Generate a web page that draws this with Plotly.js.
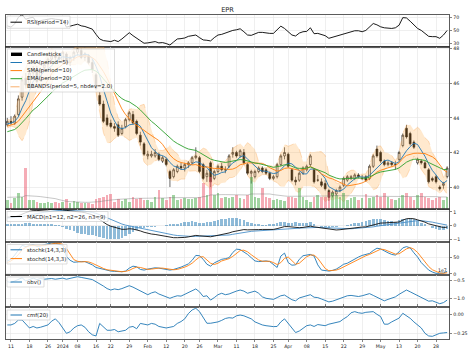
<!DOCTYPE html>
<html>
<head>
<meta charset="utf-8">
<script src="https://cdn.plot.ly/plotly-3.0.1.min.js"></script>
<style>html,body{margin:0;padding:0;background:#fff;}#chart{width:474px;height:355px;}</style>
</head>
<body>
<div id="chart"></div>
<script>
const dates = [
'2023-12-08','2023-12-11','2023-12-12','2023-12-13','2023-12-14','2023-12-15','2023-12-18','2023-12-19','2023-12-20','2023-12-21',
'2023-12-22','2023-12-26','2023-12-27','2023-12-28','2023-12-29','2024-01-02','2024-01-03','2024-01-04','2024-01-05','2024-01-08',
'2024-01-09','2024-01-10','2024-01-11','2024-01-12','2024-01-16','2024-01-17','2024-01-18','2024-01-19','2024-01-22','2024-01-23',
'2024-01-24','2024-01-25','2024-01-26','2024-01-29','2024-01-30','2024-01-31','2024-02-01','2024-02-02','2024-02-05','2024-02-06',
'2024-02-07','2024-02-08','2024-02-09','2024-02-12','2024-02-13','2024-02-14','2024-02-15','2024-02-16','2024-02-20','2024-02-21',
'2024-02-22','2024-02-23','2024-02-26','2024-02-27','2024-02-28','2024-02-29','2024-03-01','2024-03-04','2024-03-05','2024-03-06',
'2024-03-07','2024-03-08','2024-03-11','2024-03-12','2024-03-13','2024-03-14','2024-03-15','2024-03-18','2024-03-19','2024-03-20',
'2024-03-21','2024-03-22','2024-03-25','2024-03-26','2024-03-27','2024-03-28','2024-04-01','2024-04-02','2024-04-03','2024-04-04',
'2024-04-05','2024-04-08','2024-04-09','2024-04-10','2024-04-11','2024-04-12','2024-04-15','2024-04-16','2024-04-17','2024-04-18',
'2024-04-19','2024-04-22','2024-04-23','2024-04-24','2024-04-25','2024-04-26','2024-04-29','2024-04-30','2024-05-01','2024-05-02',
'2024-05-03','2024-05-06','2024-05-07','2024-05-08','2024-05-09','2024-05-10','2024-05-13','2024-05-14','2024-05-15','2024-05-16',
'2024-05-17','2024-05-20','2024-05-21','2024-05-22','2024-05-23','2024-05-24','2024-05-28','2024-05-29','2024-05-30','2024-05-31'];

const tickDates = ['2023-12-11','2023-12-18','2023-12-26','2024-01-02','2024-01-08','2024-01-16','2024-01-22','2024-01-29','2024-02-05','2024-02-12','2024-02-20','2024-02-26','2024-03-04','2024-03-11','2024-03-18','2024-03-25','2024-04-01','2024-04-08','2024-04-15','2024-04-22','2024-04-29','2024-05-06','2024-05-13','2024-05-20','2024-05-28'];
const tickLabels = ['11','18','26','2024','08','16','22','29','Feb','12','20','26','Mar','11','18','25','Apr','08','15','22','29','May','13','20','28'];

const open = [43.6,43.8,43.7,44.2,45.2,46.3,46.0,46.6,46.8,46.2, 46.9,47.1,47.4,47.6,47.5,47.3,47.7,47.2,47.5,47.8,
47.9,47.5,47.6,47.2,46.5,45.3,44.8,44.0,43.7,43.5, 43.6,43.1,43.5,43.9,44.2,43.8,43.0,42.5,41.8,41.8,
41.8,41.9,41.5,41.6,40.9,40.6,40.9,41.2,41.1,41.3, 41.4,41.7,41.7,41.3,40.6,41.4,40.5,40.9,41.2,41.0,
41.2,41.9,42.0,41.8,42.0,41.3,40.8,40.6,40.9,41.1, 41.0,40.8,40.5,40.6,41.3,41.8,41.9,41.0,40.4,40.4,
40.8,41.0,41.3,41.0,40.4,40.3,40.2,39.8,39.5,39.6, 39.8,40.1,40.4,40.5,40.5,40.7,40.5,40.6,40.5,41.2,
42.2,42.0,41.5,41.3,41.4,41.3,41.6,42.4,43.4,43.1, 42.6,41.4,41.5,41.4,41.0,40.5,40.6,40.0,40.1,40.6];
const high = [44.0,44.1,44.2,45.3,46.4,46.6,46.8,47.0,47.0,46.9, 47.3,47.5,47.8,47.9,47.7,47.9,47.8,47.6,47.9,48.1,
48.0,47.8,47.7,47.4,46.6,45.5,45.0,44.2,43.9,43.7, 43.8,43.6,44.0,44.4,44.4,43.9,43.2,42.6,42.1,42.1,
42.2,42.0,41.8,41.7,41.0,41.1,41.3,41.4,41.4,41.5, 41.8,42.3,41.8,41.4,41.0,41.5,41.0,41.3,41.4,41.2,
41.9,42.3,42.1,42.2,42.2,41.4,41.0,41.0,41.2,41.2, 41.1,40.9,40.7,41.4,41.9,42.3,42.0,41.1,40.6,40.9,
41.2,41.3,41.9,41.1,40.7,40.5,40.4,39.9,39.8,39.9, 40.1,40.6,40.7,40.7,40.8,40.8,40.7,40.7,41.3,41.9,
42.4,42.1,41.6,41.5,41.5,41.5,42.1,43.1,43.6,43.2, 42.7,41.7,41.6,41.5,41.1,40.6,40.7,40.1,40.3,41.2];
const low = [43.5,43.6,43.6,44.1,45.0,45.7,45.9,46.3,46.0,46.1, 46.7,46.9,47.2,47.3,47.2,47.2,47.1,47.0,47.3,47.6,
47.4,47.3,47.1,46.6,45.6,44.7,43.7,43.5,43.4,43.2, 42.9,43.0,43.4,43.8,43.6,43.0,42.4,41.8,41.6,41.7,
41.7,41.5,41.4,41.2,40.0,40.5,40.8,41.0,40.9,41.1, 41.3,41.6,40.8,40.4,40.3,40.0,40.4,40.8,40.9,40.8,
41.1,41.7,41.7,41.7,41.3,40.7,40.2,40.5,40.8,40.8, 40.7,40.4,40.4,40.5,41.2,41.6,41.1,40.3,40.1,40.3,
40.7,40.9,41.2,40.2,40.3,40.0,39.8,39.2,39.4,39.5, 39.7,40.0,40.3,40.4,40.4,40.5,40.4,40.3,40.4,41.1,
41.7,41.4,41.2,41.2,41.2,41.0,41.5,42.3,42.8,42.4, 42.2,41.3,41.3,41.1,40.2,40.3,40.2,39.8,39.9,40.5];
const close = [43.8,43.7,44.1,45.1,46.2,45.9,46.6,46.8,46.1,46.8, 47.1,47.4,47.6,47.5,47.4,47.8,47.2,47.5,47.8,48.0,
47.5,47.7,47.2,46.8,45.7,44.8,43.8,43.6,43.5,43.4, 43.0,43.4,43.9,44.3,43.7,43.1,42.6,41.9,41.9,41.9,
42.0,41.6,41.7,41.3,40.5,41.0,41.2,41.1,41.3,41.4, 41.7,41.8,40.9,40.5,40.8,40.3,40.9,41.2,41.0,41.0,
41.8,42.0,41.8,42.1,41.4,40.8,40.9,40.9,41.1,40.9, 40.8,40.5,40.6,41.3,41.8,42.0,41.2,40.4,40.3,40.8,
41.1,41.2,41.8,40.3,40.4,40.1,39.9,39.4,39.7,39.8, 40.0,40.5,40.6,40.6,40.7,40.6,40.5,40.4,41.2,41.8,
41.8,41.5,41.3,41.4,41.3,41.3,42.0,43.0,42.9,42.5, 42.3,41.6,41.4,41.1,40.3,40.4,40.3,39.9,40.2,41.1];

const volume = [0.54,0.34,0.64,0.94,0.74,2.44,0.54,0.54,0.44,0.34, 0.34,0.44,0.34,0.40,0.34,0.44,0.58,0.34,0.50,0.44,
0.38,0.34,0.34,0.30,0.58,0.64,0.74,0.84,0.90,0.44, 0.58,0.50,0.58,0.44,0.74,0.58,0.64,0.54,0.54,0.44,
0.74,1.14,0.64,0.54,0.74,0.84,0.54,0.58,0.64,0.58, 0.58,0.64,0.74,1.54,0.84,1.94,0.84,0.94,0.64,0.74,
0.64,0.74,0.84,0.64,0.58,0.84,1.94,0.74,0.64,1.24, 0.74,0.64,0.54,0.58,0.54,0.50,0.70,0.74,0.64,1.24,
0.74,0.54,0.44,0.74,0.84,0.74,0.70,1.04,0.94,0.84, 0.74,0.98,0.54,0.64,0.74,0.54,0.64,0.90,0.64,0.74,
0.84,0.70,0.94,0.74,0.58,0.54,0.64,0.84,0.98,0.74, 0.54,0.84,0.98,0.74,0.64,0.54,0.64,0.74,0.54,0.74];
const volumeMA = [0.70,0.70,0.70,0.72,0.72,0.80,0.80,0.78,0.76,0.74, 0.72,0.70,0.66,0.62,0.56,0.50,0.46,0.44,0.42,0.40,
0.40,0.40,0.40,0.40,0.42,0.44,0.48,0.52,0.56,0.56, 0.58,0.60,0.60,0.62,0.62,0.64,0.64,0.64,0.64,0.62,
0.64,0.66,0.66,0.66,0.68,0.68,0.66,0.66,0.66,0.66, 0.66,0.66,0.68,0.74,0.76,0.84,0.86,0.86,0.86,0.86,
0.86,0.86,0.86,0.84,0.84,0.84,0.90,0.90,0.90,0.92, 0.92,0.90,0.86,0.82,0.80,0.78,0.76,0.76,0.74,0.78,
0.78,0.76,0.74,0.74,0.76,0.76,0.76,0.78,0.80,0.80, 0.80,0.82,0.80,0.80,0.80,0.78,0.78,0.78,0.76,0.76,
0.76,0.76,0.78,0.78,0.76,0.74,0.74,0.74,0.76,0.76, 0.76,0.76,0.76,0.76,0.76,0.74,0.74,0.72,0.72,0.72];

const sma5 = [43.66,43.70,43.80,44.06,44.58,45.00,45.58,46.12,46.32,46.44, 46.68,46.84,47.00,47.28,47.40,47.54,47.50,47.48,47.54,47.66,
47.60,47.70,47.64,47.44,46.98,46.44,45.66,44.94,44.28,43.82, 43.46,43.38,43.44,43.60,43.66,43.68,43.52,43.12,42.64,42.28,
42.06,41.86,41.82,41.70,41.42,41.22,41.14,41.02,41.02,41.20, 41.34,41.46,41.42,41.26,41.14,40.86,40.68,40.74,40.84,40.88,
41.18,41.40,41.52,41.74,41.82,41.62,41.40,41.22,41.02,40.92, 40.92,40.84,40.78,40.82,41.00,41.24,41.38,41.34,41.14,40.94,
40.76,40.76,41.04,41.04,40.96,40.76,40.50,40.02,39.90,39.78, 39.76,39.88,40.12,40.30,40.48,40.60,40.60,40.56,40.68,40.90,
41.14,41.34,41.52,41.56,41.46,41.36,41.46,41.80,42.10,42.34, 42.54,42.46,42.14,41.78,41.34,40.96,40.70,40.40,40.22,40.38];
const sma10 = [43.53,43.58,43.65,43.81,44.09,44.33,44.64,44.96,45.19,45.51, 45.84,46.21,46.56,46.80,46.92,47.11,47.17,47.24,47.41,47.53,
47.57,47.60,47.56,47.49,47.32,47.02,46.68,46.29,45.86,45.40, 44.95,44.52,44.19,43.94,43.74,43.57,43.45,43.28,43.12,42.97,
42.87,42.69,42.47,42.17,41.85,41.64,41.50,41.42,41.36,41.31, 41.28,41.30,41.22,41.14,41.17,41.10,41.07,41.08,41.05,41.01,
41.02,41.04,41.13,41.29,41.35,41.40,41.40,41.37,41.38,41.37, 41.27,41.12,41.00,40.92,40.96,41.08,41.11,41.06,40.98,40.97,
41.00,41.07,41.19,41.09,40.95,40.76,40.63,40.53,40.47,40.37, 40.26,40.19,40.07,40.10,40.13,40.18,40.24,40.34,40.49,40.69,
40.87,40.97,41.04,41.12,41.18,41.25,41.40,41.66,41.83,41.90, 41.95,41.96,41.97,41.94,41.84,41.75,41.58,41.27,41.00,40.86];
const ema20 = [43.20,43.25,43.33,43.50,43.76,43.96,44.21,44.46,44.62,44.83, 45.05,45.27,45.49,45.68,45.84,46.03,46.14,46.27,46.42,46.57,
46.66,46.76,46.80,46.80,46.70,46.52,46.26,46.01,45.77,45.54, 45.30,45.12,45.00,44.93,44.81,44.65,44.46,44.22,44.00,43.80,
43.63,43.44,43.27,43.08,42.84,42.66,42.52,42.39,42.29,42.20, 42.15,42.12,42.00,41.86,41.76,41.62,41.55,41.52,41.47,41.42,
41.46,41.51,41.54,41.59,41.57,41.50,41.44,41.39,41.36,41.32, 41.27,41.20,41.14,41.16,41.22,41.29,41.28,41.20,41.11,41.08,
41.08,41.09,41.16,41.08,41.02,40.93,40.83,40.69,40.60,40.52, 40.47,40.47,40.48,40.49,40.51,40.52,40.52,40.51,40.58,40.70,
40.80,40.87,40.91,40.96,40.99,41.02,41.11,41.29,41.44,41.54, 41.61,41.61,41.59,41.54,41.42,41.32,41.22,41.10,41.01,41.02];
const bbUpper = [43.90,43.88,44.13,45.15,46.48,46.95,47.36,47.32,46.98,47.18, 47.34,47.70,48.05,47.86,47.73,47.84,47.90,47.87,48.01,48.22,
48.15,48.08,48.19,48.27,48.40,48.54,48.17,47.33,45.97,44.83, 43.99,43.79,44.01,44.50,44.54,44.50,44.72,44.79,44.04,43.26,
42.60,42.13,42.11,42.19,42.44,42.09,41.93,41.58,41.58,41.48, 41.75,41.98,42.06,42.25,42.17,41.89,41.16,41.37,41.44,41.49,
41.83,42.24,42.38,42.52,42.30,42.57,42.40,42.19,41.45,41.12, 41.12,41.23,41.21,41.38,41.97,42.46,42.36,42.45,42.54,42.18,
41.48,41.48,42.03,42.03,42.07,42.04,41.84,40.73,40.58,40.24, 40.17,40.61,40.85,40.97,40.98,40.73,40.73,40.76,41.24,41.96,
42.35,42.38,42.02,41.97,41.83,41.52,42.01,43.11,43.58,43.60, 43.28,43.46,43.26,42.85,42.65,42.01,41.62,41.18,40.56,41.17];
const bbLower = [43.42,43.52,43.47,42.97,42.68,43.05,43.80,44.92,45.66,45.70, 46.02,45.98,45.95,46.70,47.07,47.24,47.10,47.09,47.07,47.10,
47.05,47.32,47.09,46.61,45.56,44.34,43.15,42.55,42.59,42.81, 42.93,42.97,42.87,42.70,42.78,42.86,42.32,41.45,41.24,41.30,
41.52,41.59,41.53,41.21,40.40,40.35,40.35,40.46,40.46,40.92, 40.93,40.94,40.78,40.27,40.11,39.83,40.20,40.11,40.24,40.27,
40.53,40.56,40.66,40.96,41.34,40.67,40.40,40.25,40.59,40.72, 40.72,40.45,40.35,40.26,40.03,40.02,40.40,40.23,39.74,39.70,
40.04,40.04,40.05,40.05,39.85,39.48,39.16,39.31,39.22,39.32, 39.35,39.15,39.39,39.63,39.98,40.47,40.47,40.36,40.12,39.84,
39.93,40.30,41.02,41.15,41.09,41.20,40.91,40.49,40.62,41.08, 41.80,41.46,41.02,40.71,40.03,39.91,39.78,39.62,39.88,39.59];

const rsi = [57,55,60,70,74,67,69,70,62,65, 66,67,68,67,66,66,55,56,58,59.5,
57,56,54,52,44,37,34.5,34,33,35, 33,37,42,46.5,42,38,34,30.5,31,32,
33,31,31.5,30,27.7,32.5,37,37.5,38.5,41, 42,43,39,35.5,35,34,39,43,44,46,
49,50,51,52.5,48,43,42.5,45,47,47, 46,45.5,45.5,51,56.5,53,48,43,41.5,46,
48,48.5,54,45,45.5,44,42,38,39.5,41, 43.5,45,46,47.5,49.5,49.5,48,50,55,60.5,
58.5,55.5,54,53,53,54,58,69.5,69,64, 59,53,50,45,41,40.5,40.5,38,43,50];

const macd = [0.62,0.62,0.64,0.72,0.86,0.95,1.04,1.10,1.10,1.13, 1.16,1.19,1.21,1.21,1.19,1.18,1.12,1.08,1.06,1.05,
0.99,0.95,0.88,0.79,0.62,0.43,0.22,0.07,-0.05,-0.14, -0.24,-0.28,-0.28,-0.24,-0.26,-0.32,-0.40,-0.50,-0.58,-0.63,
-0.66,-0.71,-0.74,-0.79,-0.88,-0.90,-0.90,-0.90,-0.88,-0.84, -0.78,-0.73,-0.76,-0.80,-0.80,-0.83,-0.78,-0.72,-0.68,-0.64,
-0.55,-0.46,-0.40,-0.32,-0.30,-0.32,-0.33,-0.32,-0.30,-0.29, -0.29,-0.30,-0.29,-0.23,-0.15,-0.08,-0.08,-0.12,-0.16,-0.16,
-0.14,-0.12,-0.05,-0.10,-0.14,-0.18,-0.23,-0.30,-0.33,-0.33, -0.31,-0.27,-0.22,-0.18,-0.14,-0.12,-0.11,-0.10,-0.03,0.06,
0.14,0.18,0.19,0.20,0.20,0.20,0.26,0.40,0.50,0.52, 0.50,0.42,0.34,0.25,0.12,0.04,-0.04,-0.12,-0.15,-0.12];
const macdSignal = [0.55,0.57,0.58,0.61,0.66,0.72,0.78,0.84,0.89,0.94, 0.98,1.02,1.06,1.09,1.11,1.12,1.12,1.11,1.10,1.09,
1.07,1.05,1.02,0.97,0.90,0.81,0.69,0.57,0.44,0.33, 0.21,0.11,0.03,-0.03,-0.08,-0.13,-0.19,-0.25,-0.32,-0.38,
-0.43,-0.49,-0.54,-0.59,-0.65,-0.70,-0.74,-0.77,-0.80,-0.81, -0.81,-0.80,-0.79,-0.79,-0.79,-0.80,-0.79,-0.78,-0.76,-0.74,
-0.70,-0.65,-0.60,-0.54,-0.49,-0.46,-0.43,-0.41,-0.39,-0.37, -0.35,-0.34,-0.33,-0.31,-0.28,-0.24,-0.21,-0.20,-0.19,-0.18,
-0.18,-0.17,-0.15,-0.14,-0.14,-0.15,-0.16,-0.19,-0.21,-0.23, -0.25,-0.25,-0.25,-0.24,-0.22,-0.20,-0.18,-0.17,-0.14,-0.10,
-0.05,-0.01,0.03,0.06,0.09,0.11,0.14,0.19,0.25,0.30, 0.34,0.36,0.36,0.34,0.30,0.25,0.19,0.13,0.07,0.03];
const macdHist = [0.08,0.09,0.10,0.12,0.14,0.15,0.15,0.14,0.13,0.12, 0.11,0.10,0.09,0.07,0.03,-0.12,-0.25,-0.33,-0.43,-0.52,
-0.60,-0.65,-0.70,-0.73,-0.80,-0.88,-0.93,-0.97,-1.00,-1.00, -0.97,-0.90,-0.78,-0.60,-0.45,-0.32,-0.22,-0.17,-0.14,-0.11,
-0.08,-0.04,0.00,0.05,0.08,0.10,0.13,0.18,0.23,0.27, 0.30,0.26,0.18,0.20,0.25,0.28,0.33,0.40,0.45,0.50,
0.52,0.55,0.58,0.50,0.38,0.27,0.18,0.12,0.08,0.05, 0.07,0.10,0.14,0.19,0.28,0.26,0.20,0.20,0.24,0.20,
0.18,0.22,0.25,0.12,0.00,-0.08,-0.12,-0.15,-0.13,-0.10, -0.05,0.00,0.06,0.12,0.17,0.20,0.25,0.33,0.42,0.48,
0.50,0.45,0.40,0.35,0.30,0.28,0.38,0.45,0.50,0.50, 0.45,0.35,0.20,0.08,-0.06,-0.15,-0.24,-0.30,-0.33,-0.26];

const stochK = [40,45,58,75,88,84,88,90,85,86, 90,93,95,94,92,88,53,42,36,38,
38,38,34,28,20,17,13,10,9,8, 7,7,9,18,24,22,14,12,15,17,
19,18,16,14,12,14,17,21,26,31, 42,57,56,45,30,24,34,40,45,47,
50,66,76,75,68,60,50,40,38,40, 40,38,28,20,55,64,35,27,28,45,
56,58,60,55,28,12,10,9,11,15, 22,30,33,40,46,52,57,60,63,72,
79,77,70,65,60,58,68,80,84,80, 65,52,35,22,12,6,2,2,3,8];
const stochD = [35,40,48,59,74,82,87,87,88,87, 87,90,93,94,94,91,78,61,44,39,
37,38,37,33,27,22,17,13,11,9, 8,7,8,11,17,21,20,16,14,15,
17,18,18,16,14,13,14,17,21,26, 33,43,52,53,44,33,29,33,40,44,
47,54,64,72,73,68,59,50,43,39, 39,39,35,29,35,48,52,41,30,33,
43,53,58,58,48,32,17,10,10,12, 16,22,28,34,40,46,52,56,60,65,
71,76,75,71,65,61,62,69,77,81, 76,66,51,36,23,13,7,3,2,4];

const obv = [-0.54,-0.56,-0.52,-0.47,-0.43,-0.52,-0.48,-0.44,-0.48,-0.45, -0.47,-0.46,-0.45,-0.47,-0.45,-0.44,-0.47,-0.45,-0.42,-0.40,
-0.42,-0.44,-0.45,-0.48,-0.54,-0.59,-0.66,-0.73,-0.77,-0.74, -0.76,-0.73,-0.68,-0.65,-0.69,-0.74,-0.80,-0.86,-0.90,-0.85,
-0.82,-0.88,-0.92,-0.97,-1.00,-0.96,-0.93,-0.94,-0.89,-0.84, -0.80,-0.74,-0.82,-0.95,-0.93,-1.05,-0.98,-0.90,-0.86,-0.90,
-0.88,-0.83,-0.80,-0.77,-0.80,-0.86,-0.84,-0.80,-0.86,-0.96, -1.00,-1.02,-1.03,-0.98,-0.93,-0.91,-0.97,-1.04,-1.07,-0.99,
-0.96,-0.94,-0.90,-0.97,-0.98,-1.02,-1.05,-1.10,-1.08,-1.04, -1.00,-0.97,-0.93,-0.92,-0.94,-0.95,-0.93,-0.90,-0.87,-0.92,
-0.97,-1.00,-1.07,-1.03,-0.99,-0.96,-0.89,-0.82,-0.77,-0.82, -0.87,-0.92,-0.98,-1.03,-1.08,-1.07,-1.12,-1.15,-1.12,-1.05];
const cmf = [-0.14,-0.14,-0.12,-0.075,-0.075,-0.13,-0.18,-0.16,-0.18,-0.17, -0.16,-0.14,-0.09,-0.06,-0.11,-0.18,-0.25,-0.23,-0.18,-0.15,
-0.14,-0.17,-0.23,-0.27,-0.285,-0.12,-0.17,-0.21,-0.21,-0.20, -0.23,-0.22,-0.21,-0.17,-0.16,-0.19,-0.12,-0.13,-0.14,-0.12,
-0.13,-0.16,-0.17,-0.18,-0.17,-0.16,-0.12,-0.096,-0.06,0.01, 0.057,0.079,0.035,-0.05,-0.118,-0.118,-0.11,-0.10,-0.08,-0.055,
-0.045,-0.05,-0.02,-0.01,-0.02,-0.045,-0.06,-0.10,-0.125,-0.14, -0.15,-0.16,-0.162,-0.16,-0.10,-0.06,-0.12,-0.18,-0.24,-0.22,
-0.18,-0.15,-0.14,-0.16,-0.135,-0.14,-0.15,-0.13,-0.12,-0.11, -0.096,-0.06,-0.03,0.02,0.035,0.02,0.013,0.026,0.03,0.035,
0.0,-0.03,-0.13,-0.13,-0.10,-0.07,-0.05,0.013,-0.02,-0.053, -0.10,-0.14,-0.18,-0.25,-0.285,-0.29,-0.27,-0.25,-0.245,-0.24];

// ---------- layout helpers ----------
const L = 6, R = 449, T = 15, B = 339;
const px2x = x => (x - L) / (R - L);
const px2y = y => (B - y) / (B - T);
const dom = (top, bot) => [px2y(bot), px2y(top)];
const FONT = 'DejaVu Sans, sans-serif';
const GRID = '#e4e4e4';
const AX = '#333';

function yax(domain, range, tickvals, ticktext) {
  return {domain, range, tickvals, ticktext, tickmode: 'array', side: 'right', anchor: 'x',
    showline: true, linecolor: AX, linewidth: 0.8, mirror: true,
    ticks: 'outside', ticklen: 2.5, tickwidth: 0.6, tickcolor: AX,
    showgrid: true, gridcolor: GRID, gridwidth: 0.6, zeroline: false,
    tickfont: {size: 4.7, color: '#222'}, fixedrange: true};
}

const volColors = close.map((c, i) => c >= open[i] ? 'rgba(70,170,70,0.5)' : 'rgba(235,90,110,0.5)');

const traces = [
  {x: dates, y: bbLower, type: 'scatter', mode: 'lines', yaxis: 'y2', line: {color: 'rgba(250,160,70,0.55)', width: 0.6, dash: 'dash'}, hoverinfo: 'skip'},
  {x: dates, y: bbUpper, type: 'scatter', mode: 'lines', yaxis: 'y2', fill: 'tonexty', fillcolor: 'rgba(255,175,80,0.28)', line: {color: 'rgba(250,160,70,0.55)', width: 0.6, dash: 'dash'}, hoverinfo: 'skip'},
  {x: dates, open: open, high: high, low: low, close: close, type: 'candlestick', yaxis: 'y2', whiskerwidth: 0,
    increasing: {line: {color: '#000', width: 0.6}, fillcolor: '#ffffff'},
    decreasing: {line: {color: '#000', width: 0.6}, fillcolor: '#000000'}, hoverinfo: 'skip'},
  {x: dates, y: sma5, type: 'scatter', mode: 'lines', yaxis: 'y2', line: {color: '#1f77b4', width: 0.9}, hoverinfo: 'skip'},
  {x: dates, y: sma10, type: 'scatter', mode: 'lines', yaxis: 'y2', line: {color: '#ff7f0e', width: 0.9}, hoverinfo: 'skip'},
  {x: dates, y: ema20, type: 'scatter', mode: 'lines', yaxis: 'y2', line: {color: '#2ca02c', width: 0.9}, hoverinfo: 'skip'},
  {x: dates, y: volume, type: 'bar', yaxis: 'y7', marker: {color: volColors, line: {width: 0}}, width: 0.72, hoverinfo: 'skip'},
  {x: dates, y: volumeMA, type: 'scatter', mode: 'lines', yaxis: 'y7', line: {color: 'rgba(120,120,120,0.6)', width: 0.7}, hoverinfo: 'skip'},
  {x: dates, y: rsi, type: 'scatter', mode: 'lines', yaxis: 'y', line: {color: '#000', width: 0.9}, hoverinfo: 'skip'},
  {x: dates, y: macdHist, type: 'bar', yaxis: 'y3', marker: {color: 'rgba(31,119,180,0.5)', line: {width: 0}}, width: 0.72, hoverinfo: 'skip'},
  {x: dates, y: macdSignal, type: 'scatter', mode: 'lines', yaxis: 'y3', line: {color: '#4a90c8', width: 0.9}, hoverinfo: 'skip'},
  {x: dates, y: macd, type: 'scatter', mode: 'lines', yaxis: 'y3', line: {color: '#111', width: 0.9}, hoverinfo: 'skip'},
  {x: dates, y: stochK, type: 'scatter', mode: 'lines', yaxis: 'y4', line: {color: '#1f77b4', width: 0.9}, hoverinfo: 'skip'},
  {x: dates, y: stochD, type: 'scatter', mode: 'lines', yaxis: 'y4', line: {color: '#ff7f0e', width: 0.9}, hoverinfo: 'skip'},
  {x: dates, y: obv, type: 'scatter', mode: 'lines', yaxis: 'y5', line: {color: '#1f77b4', width: 0.9}, hoverinfo: 'skip'},
  {x: dates, y: cmf, type: 'scatter', mode: 'lines', yaxis: 'y6', line: {color: '#1f77b4', width: 0.9}, hoverinfo: 'skip'}
];

// ---------- legends (drawn as boxes + real text) ----------
const legends = [
  {box: [7, 16, 70, 28.3], items: [{t: 'RSI(period=14)', y: 22.2, c: '#000'}]},
  {box: [7.3, 49, 114.5, 92], items: [
    {t: 'Candlesticks', y: 54.3, c: '#000', sym: 'rect'},
    {t: 'SMA(period=5)', y: 62.5, c: '#1f77b4'},
    {t: 'SMA(period=10)', y: 70.6, c: '#ff7f0e'},
    {t: 'EMA(period=20)', y: 78.7, c: '#2ca02c'},
    {t: 'BBANDS(period=5, nbdev=2.0)', y: 86.8, c: 'rgba(245,150,60,0.75)', dash: 'dash'}]},
  {box: [7, 211.5, 108, 221.5], items: [{t: 'MACD(n1=12, n2=26, n3=9)', y: 216.5, c: '#000'}]},
  {box: [7, 244.5, 67, 264], items: [{t: 'stochk(14,3,3)', y: 249.8, c: '#1f77b4'}, {t: 'stochd(14,3,3)', y: 258.6, c: '#ff7f0e'}]},
  {box: [7, 277, 44, 287], items: [{t: 'obv()', y: 282, c: '#1f77b4'}]},
  {box: [7, 310, 50, 320], items: [{t: 'cmf(20)', y: 315, c: '#1f77b4'}]}
];
const shapes = [], annotations = [];
legends.forEach(lg => {
  const [x0, y0, x1, y1] = lg.box;
  shapes.push({type: 'rect', xref: 'paper', yref: 'paper', x0: px2x(x0), x1: px2x(x1), y0: px2y(y1), y1: px2y(y0),
    fillcolor: 'rgba(255,255,255,0.8)', line: {color: '#cfcfcf', width: 0.7}, layer: 'above'});
  lg.items.forEach(it => {
    if (it.sym === 'rect') {
      shapes.push({type: 'rect', xref: 'paper', yref: 'paper', x0: px2x(11), x1: px2x(22), y0: px2y(it.y + 1.7), y1: px2y(it.y - 1.7),
        fillcolor: it.c, line: {width: 0}, layer: 'above'});
    } else {
      shapes.push({type: 'line', xref: 'paper', yref: 'paper', x0: px2x(10.5), x1: px2x(22), y0: px2y(it.y), y1: px2y(it.y),
        line: {color: it.c, width: 1, dash: it.dash || 'solid'}, layer: 'above'});
    }
    annotations.push({xref: 'paper', yref: 'paper', x: px2x(25.8), y: px2y(it.y), text: it.t, showarrow: false,
      xanchor: 'left', yanchor: 'middle', borderpad: 0, font: {size: 5.4, color: '#222', family: FONT}});
  });
});
annotations.push({xref: 'paper', yref: 'paper', x: px2x(448), y: px2y(273.5), text: '1e7', showarrow: false,
  xanchor: 'right', yanchor: 'bottom', borderpad: 0, font: {size: 4.7, color: '#222', family: FONT}});

const layout = {
  width: 474, height: 355,
  margin: {l: L, r: 474 - R, t: T, b: 355 - B, pad: 0},
  paper_bgcolor: '#fff', plot_bgcolor: '#fff',
  font: {family: FONT, size: 4.7, color: '#222'},
  showlegend: false, barmode: 'overlay', bargap: 0,
  title: {text: 'EPR', font: {size: 6.6, color: '#222', family: FONT}, x: (L + R) / 2 / 474, xref: 'container', xanchor: 'center', y: 1 - 9.5 / 355, yref: 'container', yanchor: 'middle'},
  xaxis: {type: 'category', range: [-0.35, 119.5], tickmode: 'array', tickvals: tickDates, ticktext: tickLabels, tickangle: 0,
    anchor: 'y6', showline: true, linecolor: AX, linewidth: 0.8, mirror: 'all',
    ticks: 'outside', ticklen: 2.5, tickwidth: 0.6, tickcolor: AX,
    showgrid: true, gridcolor: GRID, gridwidth: 0.6, rangeslider: {visible: false},
    tickfont: {size: 4.7, color: '#222'}, fixedrange: true},
  yaxis: yax(dom(T, 46.7), [25.2, 73.5], [30, 50, 70], ['30', '50', '70']),
  yaxis2: yax(dom(46.7, 209), [38.73, 48.12], [40, 42, 44, 46, 48], ['40', '42', '44', '46', '48']),
  yaxis3: yax(dom(209, 242.3), [-1.24, 1.22], [-1, 0, 1], ['\u22121', '0', '1']),
  yaxis4: yax(dom(242.3, 275), [-3.1, 97.2], [0, 50], ['0', '50']),
  yaxis5: yax(dom(275, 307.3), [-1.25, -0.353], [-1.0, -0.5], ['\u22121.0', '\u22120.5']),
  yaxis6: yax(dom(307.3, B), [-0.325, 0.092], [-0.25, 0], ['\u22120.25', '0.00']),
  yaxis7: {overlaying: 'y2', anchor: 'x', range: [0, 9.72], visible: false, showgrid: false, zeroline: false, fixedrange: true},
  shapes, annotations
};

Plotly.newPlot('chart', traces, layout, {staticPlot: true, displayModeBar: false});
</script>
</body>
</html>
